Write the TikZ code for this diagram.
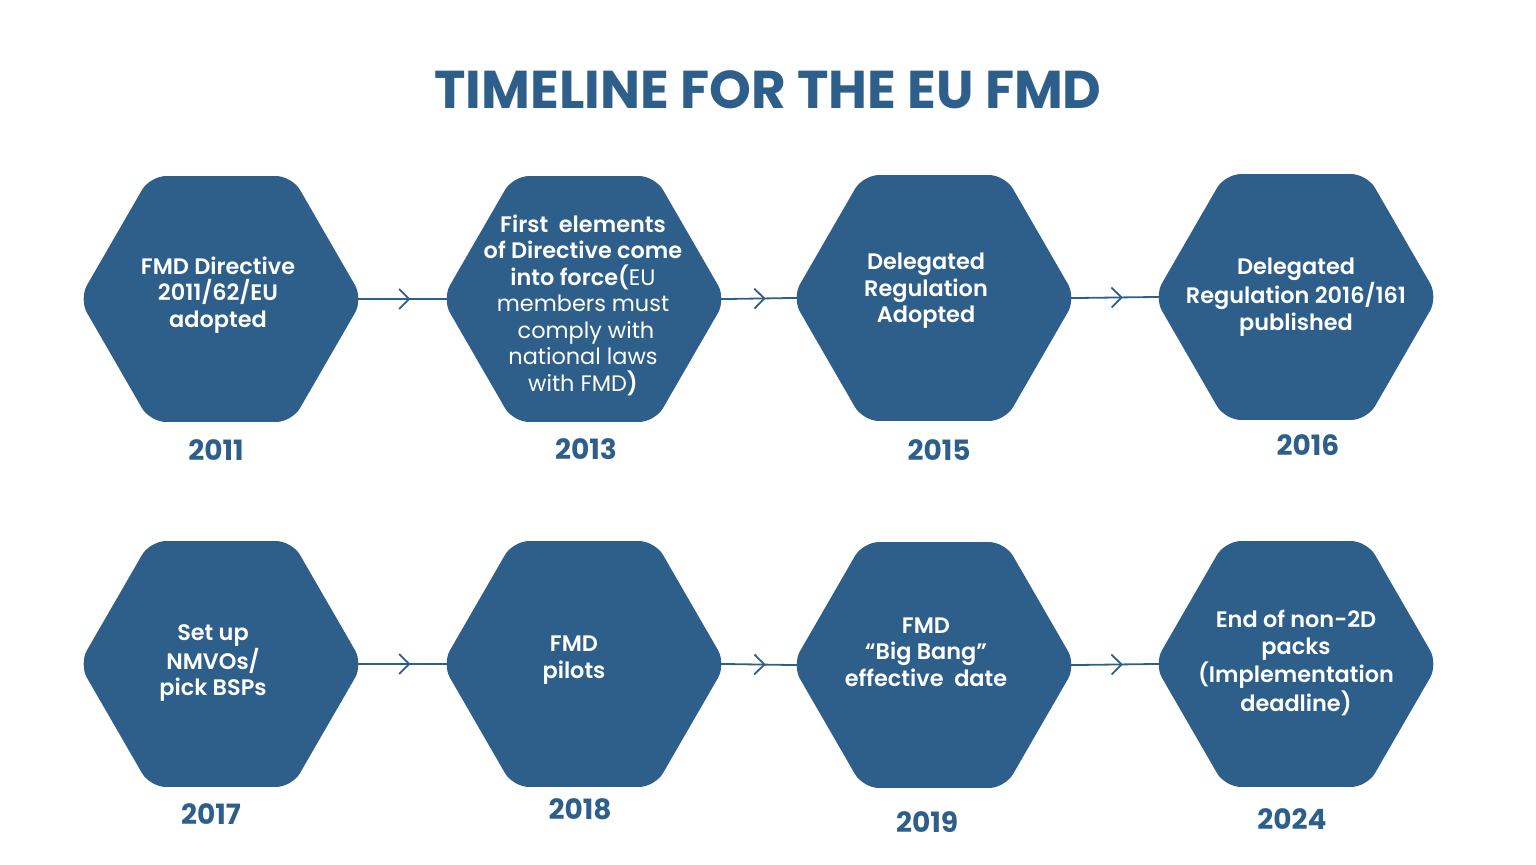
\documentclass[tikz,border=0pt]{standalone}
\usepackage{fontspec}
\setmainfont{Poppins}
\newfontfamily\semifont{Poppins SemiBold}
\newfontfamily\regfont{Poppins}
\definecolor{fmd}{HTML}{2E5F8A}
\usetikzlibrary{shapes.geometric, arrows.meta, decorations.markings}
\tikzset{hexa/.style={regular polygon, regular polygon sides=6, fill=fmd, minimum size=142pt, inner sep=0pt, outer sep=0pt, rounded corners=8pt},
txt/.style={text=white, align=center, font=\semifont\fontsize{11.2}{13.25}\selectfont},
year/.style={text=fmd, font=\bfseries\fontsize{14}{16}\selectfont},
link/.style={fmd, line width=0.9pt, shorten <=-3pt, shorten >=-3pt, postaction={decorate}, decoration={markings, mark=at position 0.6 with {\arrow{Straight Barb[length=5pt,width=10pt,line width=0.9pt]}}}}}

\begin{document}
\begin{tikzpicture}[x=0.5pt,y=-0.5pt]
\useasboundingbox (0,0) rectangle (1536,864);
\node[text=fmd,font=\bfseries\fontsize{26.6}{30}\selectfont] (title) at (768,90) {TIMELINE FOR THE EU FMD};
\foreach \n/\x/\y in {1/221/299,2/584/299,3/934/298,4/1296/297,5/221/664,6/584/664,7/934/665,8/1296/664}
	\node[hexa] (h\n) at (\x,\y) {};
\foreach \a/\b in {1/2,2/3,3/4,5/6,6/7,7/8}
	\draw[link] (h\a.east) -- (h\b.west);
\node[txt] (t1) at (218,295) {FMD Directive\\2011/62/EU\\adopted};
\node[txt] (t2) at (583,305) {First\ \ elements\\of Directive come\\into force(\regfont EU\\\regfont members must\\\regfont\ comply with\\\regfont national laws\\\regfont with FMD\semifont)};
\node[txt] (t3) at (926,291) {Delegated\\Regulation\\Adopted};
\node[txt] (t4) at (1296,297) {Delegated\\Regulation 2016/161\\published};
\node[txt] (t5) at (213,663) {Set up\\NMVOs/\\pick BSPs};
\node[txt] (t6) at (574,660) {FMD\\pilots};
\node[txt] (t7) at (926,652) {FMD\\“Big Bang”\\effective\ \ date};
\node[txt] (t8) at (1296,663) {End of non-2D\\packs\\(Implementation\\deadline)};
\foreach \n/\x/\y/\t in {1/216/450/2011,2/586/449/2013,3/939/450/2015,4/1308/445/2016,5/211/814/2017,6/580/809/2018,7/927/822/2019,8/1292/819/2024}
	\node[year] (y\n) at (\x,\y) {\t};
\end{tikzpicture}
\end{document}
